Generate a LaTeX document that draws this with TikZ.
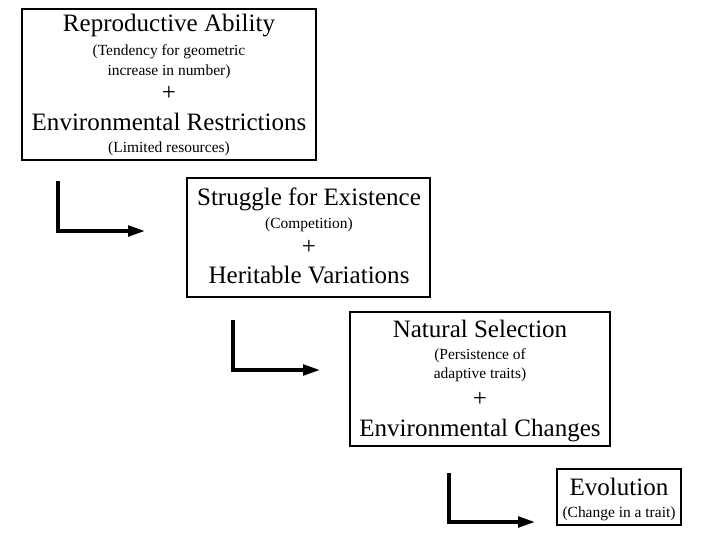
\documentclass[tikz,border=0pt]{standalone}
\usepackage{fontspec}
\setmainfont{Liberation Serif}
\usepackage{tikz}
\usetikzlibrary{arrows.meta,positioning}
\newcommand{\hd}[1]{{\fontsize{17.8}{18}\selectfont #1}}
\newcommand{\sm}[1]{{\fontsize{11}{12}\selectfont #1}}

\begin{document}
\begin{tikzpicture}[
  x=0.025cm, y=-0.025cm,
  box/.style={draw=black, line width=1.3pt, inner sep=0pt, fill=white},
  txt/.style={align=center, inner sep=0pt, anchor=base,
    font={\fontsize{11}{0}\selectfont\lineskiplimit=-100pt\lineskip=0pt}},
  arr/.style={-{Triangle[length=12pt,width=7.5pt]}, line width=2.4pt, black}
]
\useasboundingbox (0,0) rectangle (720,540);
% boxes
\node[box, minimum width=7.35cm, minimum height=3.775cm] (repro) at (169,84.5) {};
\node[box, minimum width=6.075cm, minimum height=2.975cm] (strug) at (308.5,237.5) {};
\node[box, minimum width=6.5cm, minimum height=3.35cm] (natsel) at (480,379) {};
\node[box, minimum width=3.1cm, minimum height=1.4cm] (evol) at (619,497) {};
% texts (anchored at the baseline of the last line)
\node[txt] (reprotxt) at (169,152.5)
  {\hd{Reproductive Ability}\\[17pt]
   \sm{(Tendency for geometric}\\[14.2pt]
   \sm{increase in number)}\\[17.7pt]
   \hd{+}\\[21.3pt]
   \hd{Environmental Restrictions}\\[15.6pt]
   \sm{(Limited resources)}};
\node[txt] (strugtxt) at (309,283.5)
  {\hd{Struggle for Existence}\\[16.3pt]
   \sm{(Competition)}\\[18.4pt]
   \hd{+}\\[20.6pt]
   \hd{Heritable Variations}};
\node[txt] (natseltxt) at (480,436)
  {\hd{Natural Selection}\\[15.6pt]
   \sm{(Persistence of}\\[13.5pt]
   \sm{adaptive traits)}\\[19.8pt]
   \hd{+}\\[21pt]
   \hd{Environmental Changes}};
\node[txt] (evoltxt) at (619,517)
  {\hd{Evolution}\\[15.6pt]
   \sm{(Change in a trait)}};
% elbow arrows
\coordinate (a1) at (58,181);
\coordinate (b1) at (145,231);
\coordinate (a2) at (233,320);
\coordinate (b2) at (320,370);
\coordinate (a3) at (449,473);
\coordinate (b3) at (535,522);
\draw[arr] (a1) |- (b1);
\draw[arr] (a2) |- (b2);
\draw[arr] (a3) |- (b3);
\end{tikzpicture}
\end{document}
